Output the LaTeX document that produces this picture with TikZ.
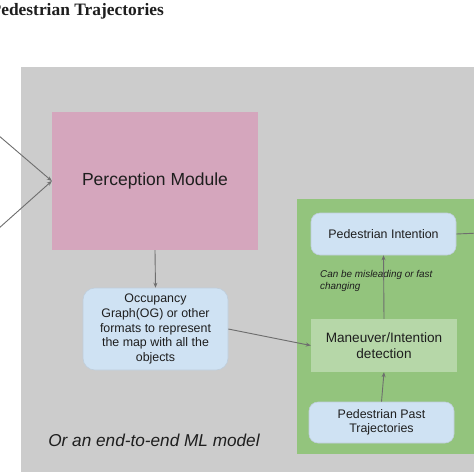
\documentclass[tikz,border=0pt]{standalone}
\usepackage{fontspec}
\setmainfont{Liberation Sans}
\newfontfamily\titlefont{Liberation Serif}
\usetikzlibrary{arrows.meta}
\definecolor{bggray}{HTML}{CCCCCC}
\definecolor{pinkbox}{HTML}{D5A6BD}
\definecolor{greenbox}{HTML}{93C47D}
\definecolor{lightblue}{HTML}{CFE2F3}
\definecolor{lightgreen}{HTML}{B6D7A8}
\definecolor{linegray}{HTML}{6E6E6E}
\definecolor{txt}{HTML}{1E1E1E}
\tikzset{
  conn/.style={draw=linegray, line width=0.9pt},
  arr/.style={conn, -{Stealth[length=5pt,width=4pt]}},
  bluebox/.style={fill=lightblue, draw=lightblue!80!gray, line width=0.6pt, rounded corners=9pt, text=txt, align=center, inner sep=0pt},
  txt12/.style={font=\fontsize{12.4}{14.6}\selectfont},
}
\begin{document}
\begin{tikzpicture}[x=1pt,y=-1pt]
\useasboundingbox (0,0) rectangle (474,474);
\clip (0,0) rectangle (474,474);
\fill[white] (0,0) rectangle (474,474);
% title (cut off at the left edge, as in the reference)
\node[anchor=base west, inner sep=0pt, text=txt] (title) at (-9.5,15) {\titlefont\bfseries\fontsize{17.4}{20}\selectfont Pedestrian Trajectories};
% gray background panel
\fill[bggray] (21,67) rectangle (480,472);
% green panel
\fill[greenbox] (297,199) rectangle (480,454);
% nodes
\node[fill=pinkbox, minimum width=206pt, minimum height=138pt, inner sep=0pt, text=txt, font=\fontsize{17.5}{20}\selectfont] (perc) at (155,181) {\raisebox{-2pt}{Perception Module}};
\node[bluebox, txt12, minimum width=145pt, minimum height=82pt, rounded corners=12pt] (occ) at (155.5,329) {Occupancy\\Graph(OG) or other\\formats to represent\\the map with all the\\objects};
\node[bluebox, txt12, minimum width=145pt, minimum height=42pt] (int) at (383.5,234) {Pedestrian Intention};
\node[fill=lightgreen, minimum width=146pt, minimum height=53pt, inner sep=0pt, text=txt, align=center, font=\fontsize{13.6}{16}\selectfont] (man) at (384,345.5) {Maneuver/Intention\\detection};
\node[bluebox, font=\fontsize{12.4}{14}\selectfont, minimum width=145pt, minimum height=41pt] (past) at (381.5,422.5) {Pedestrian Past\\Trajectories};
\node[anchor=west, align=left, inner sep=0pt, text=txt, font=\itshape\fontsize{9.9}{12.3}\selectfont] (note) at (320,281) {Can be misleading or fast\\changing};
\node[inner sep=0pt, text=txt, font=\itshape\fontsize{17.2}{20}\selectfont] (e2e) at (154,440) {Or an end-to-end ML model};
% connectors
\coordinate (in1) at (-2,135);
\coordinate (in2) at (-2,229);
\coordinate (out) at (480,233);
\draw[arr] (in1) -- (perc.west);
\draw[arr] (in2) -- (perc.west);
\draw[arr] (perc.south) -- (occ.north);
\draw[arr] (occ.east) -- (man.west);
\draw[arr] (past.north) -- (man.south);
\draw[arr] (man.north) -- (int.south);
\draw[conn] (int.east) -- (out);
\end{tikzpicture}
\end{document}
